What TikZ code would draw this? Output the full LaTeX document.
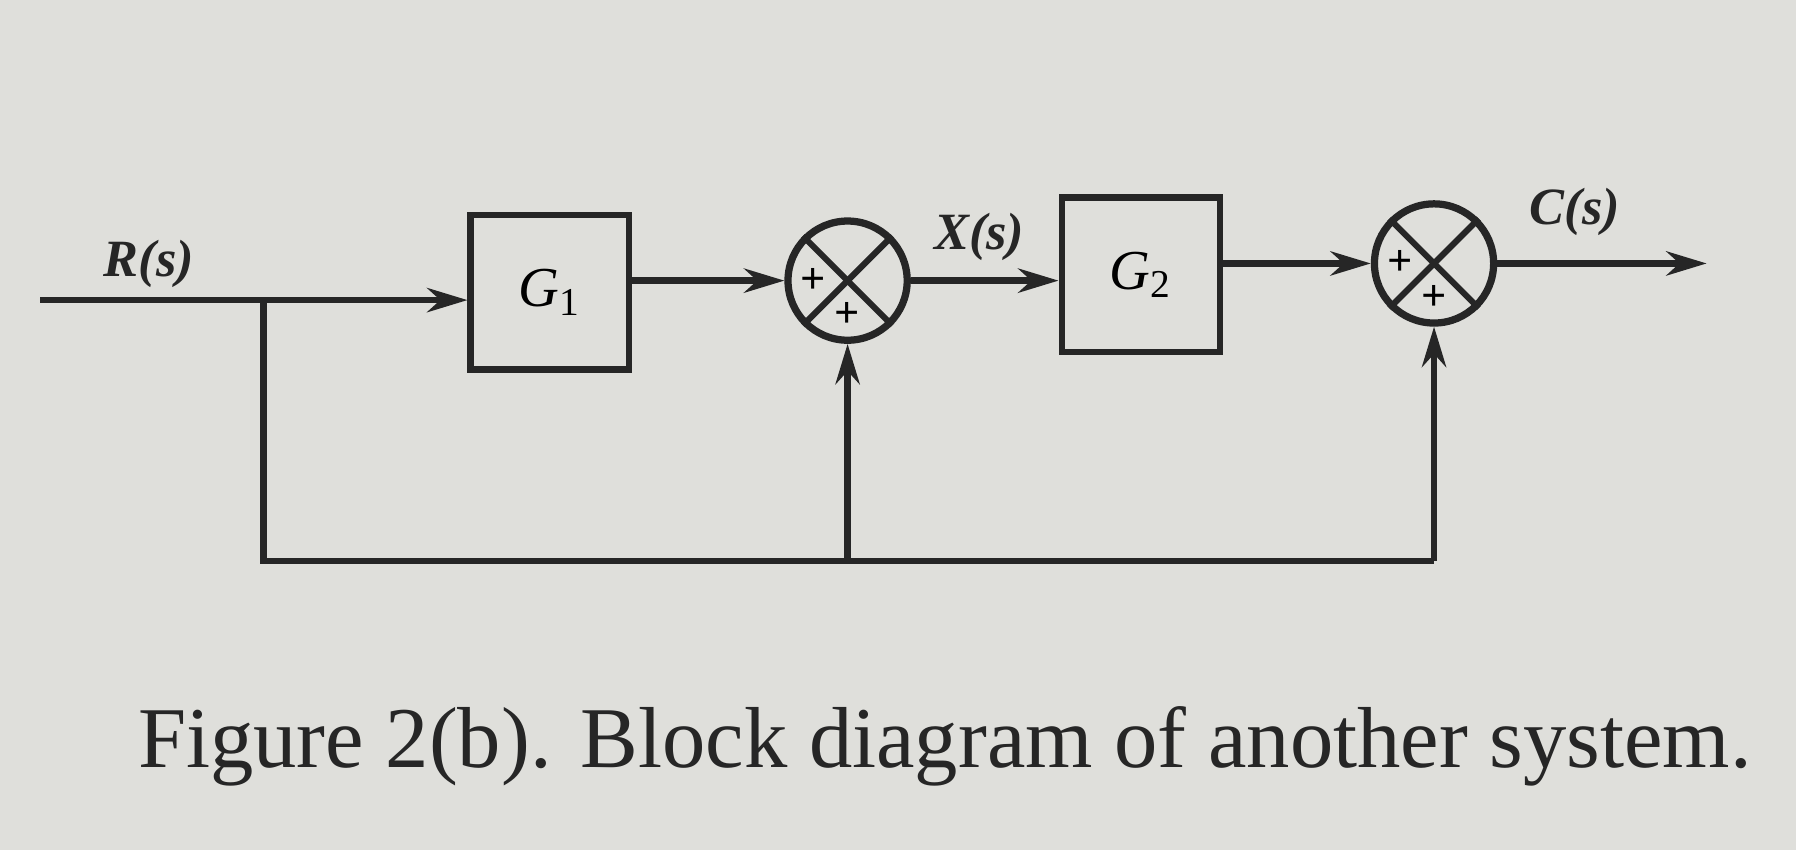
\documentclass[tikz,border=0pt]{standalone}
\usepackage{fontspec}
\setmainfont{Liberation Serif}
\usetikzlibrary{arrows.meta}
\definecolor{paper}{HTML}{DFDFDB}
\definecolor{ink}{HTML}{262626}
\begin{document}
\begin{tikzpicture}[x=0.01cm,y=-0.01cm,
  line width=1.6pt, draw=ink,
  blk/.style={draw=ink,line width=1.6pt,minimum width=1.38cm,minimum height=1.35cm,inner sep=0pt},
  sumj/.style={draw=ink,line width=1.8pt,circle,minimum size=1.04cm,inner sep=0pt},
  sig/.style={-{Stealth[length=10pt,width=6pt]}},
  lbl/.style={font=\fontsize{13}{15}\selectfont\bfseries\itshape,text=ink}]
\fill[paper] (0,0) rectangle (1568,742);
\useasboundingbox (0,0) rectangle (1568,742);
\node[blk] (g1) at (480,255) {\fontsize{14}{16}\selectfont{\itshape G}\textsubscript{1}};
\node[blk] (g2) at (996,240) {\fontsize{14}{16}\selectfont{\itshape G}\textsubscript{2}};
\node[sumj] (s1) at (740,245) {};
\node[sumj] (s2) at (1252,230) {};
\foreach \s in {s1,s2}{
  \draw[line width=1.5pt] (\s.north west) -- (\s.south east);
  \draw[line width=1.5pt] (\s.north east) -- (\s.south west);
  \node[font=\bfseries\fontsize{11}{11}\selectfont] at ([xshift=-0.3cm]\s.center) {+};
  \node[font=\bfseries\fontsize{11}{11}\selectfont] at ([yshift=-0.3cm]\s.center) {+};
}
\coordinate (in) at (35,262);
\coordinate (br) at (230,262);
\coordinate (out) at (1490,230);
\coordinate (fl) at (230,490);
\coordinate (fm) at (740,490);
\coordinate (fr) at (1252,490);
\draw (in) -- (br);
\draw[sig] (br) -- (g1.west|-br);
\draw[sig] (g1.east|-s1) -- (s1.west);
\draw[sig] (s1.east) -- (g2.west|-s1);
\draw[sig] (g2.east|-s2) -- (s2.west);
\draw[sig] (s2.east) -- (out);
\draw (br) -- (fl) -- (fr);
\draw[sig] (fm) -- (s1.south);
\draw[sig] (fr) -- (s2.south);
\node[lbl] (r) at (130,230) {R(s)};
\node[lbl] (x) at (855,207) {X(s)};
\node[lbl] (c) at (1375,185) {C(s)};
\node[font=\fontsize{21.5}{26}\selectfont,text=ink] (cap) at (825,652) {Figure 2(b). Block diagram of another system.};
\end{tikzpicture}
\end{document}
